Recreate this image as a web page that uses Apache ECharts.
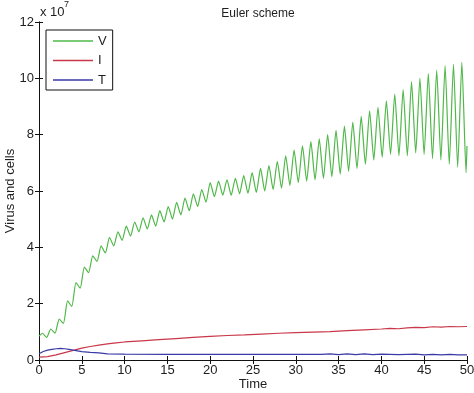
<!DOCTYPE html>
<html>
<head>
<meta charset="utf-8">
<script src="https://cdn.jsdelivr.net/npm/echarts@6/dist/echarts.min.js"></script>
<style>html,body{margin:0;padding:0;background:#fff}#c{width:474px;height:393px}</style>
</head>
<body>
<div id="c"></div>
<script>
// Values in units of 10^7
const xTicks = [0, 5, 10, 15, 20, 25, 30, 35, 40, 45, 50];
const yTicks = [0, 2, 4, 6, 8, 10, 12];

const vTime = [0, 0.4, 0.89, 1.38, 1.87, 2.36, 2.85, 3.34, 3.83, 4.32, 4.81, 5.3, 5.79, 6.28, 6.77, 7.26, 7.75, 8.24, 8.73, 9.22, 9.71,
  10.2, 10.69, 11.18, 11.67, 12.16, 12.65, 13.14, 13.63, 14.12, 14.61, 15.1, 15.59, 16.08, 16.57, 17.06, 17.55, 18.04, 18.53, 19.02, 19.51,
  20.0, 20.49, 20.98, 21.47, 21.96, 22.45, 22.94, 23.43, 23.92, 24.41, 24.9, 25.39, 25.88, 26.37, 26.86, 27.35, 27.84, 28.33, 28.82, 29.31,
  29.8, 30.29, 30.78, 31.27, 31.76, 32.25, 32.74, 33.23, 33.72, 34.21, 34.7, 35.19, 35.68, 36.17, 36.66, 37.15, 37.64, 38.13, 38.62, 39.11,
  39.6, 40.09, 40.58, 41.07, 41.56, 42.05, 42.54, 43.03, 43.52, 44.01, 44.5, 44.99, 45.48, 45.97, 46.46, 46.95, 47.44, 47.93, 48.42, 48.91,
  49.4, 49.89, 50];
const vValue = [0.85, 0.95, 0.8, 1.1, 0.95, 1.45, 1.3, 2.1, 1.9, 2.75, 2.55, 3.3, 3.1, 3.7, 3.5, 4.05, 3.8, 4.35, 4.05, 4.55, 4.25,
  4.75, 4.4, 4.9, 4.55, 5.05, 4.65, 5.15, 4.75, 5.3, 4.9, 5.45, 5.0, 5.6, 5.15, 5.75, 5.3, 5.9, 5.45, 6.05, 5.6,
  6.3, 5.8, 6.35, 5.85, 6.4, 5.85, 6.45, 5.9, 6.55, 5.92, 6.65, 5.95, 6.8, 6.0, 6.9, 6.05, 7.05, 6.1, 7.25, 6.2,
  7.45, 6.3, 7.6, 6.35, 7.75, 6.4, 7.85, 6.45, 8.0, 6.5, 8.15, 6.6, 8.3, 6.7, 8.45, 6.8, 8.65, 6.95, 8.85, 7.1,
  8.97, 7.2, 9.2, 7.3, 9.44, 7.25, 9.6, 7.25, 9.88, 7.35, 10.0, 7.3, 10.17, 7.15, 10.29, 7.1, 10.45, 6.95, 10.5, 6.85,
  10.57, 6.65, 7.6];

const iTime = [0, 1, 2, 3, 4, 5, 6, 7, 8, 9, 10, 12, 14, 16, 18, 20, 22, 24, 26, 28, 30, 32, 34, 36, 38, 40, 41, 42, 43, 44, 45, 46, 47, 48, 49, 50];
const iValue = [0.1, 0.12, 0.18, 0.26, 0.34, 0.42, 0.48, 0.53, 0.57, 0.61, 0.64, 0.68, 0.72, 0.76, 0.8, 0.84, 0.87, 0.89, 0.92, 0.95, 0.97, 0.99, 1.01, 1.04, 1.07, 1.1, 1.12, 1.11, 1.14, 1.16, 1.15, 1.18, 1.17, 1.19, 1.18, 1.19];

const tTime = [0, 0.5, 1, 1.5, 2, 2.5, 3, 3.5, 4, 5, 6, 7, 8, 10, 15, 20, 25, 30, 33, 34, 35, 36, 37, 38, 39, 40, 42, 44, 45, 46, 47, 48, 49, 50];
const tValue = [0.22, 0.3, 0.35, 0.38, 0.4, 0.41, 0.4, 0.38, 0.35, 0.3, 0.27, 0.25, 0.22, 0.21, 0.2, 0.2, 0.2, 0.2, 0.2, 0.22, 0.19, 0.22, 0.19, 0.22, 0.19, 0.21, 0.19, 0.21, 0.18, 0.2, 0.18, 0.2, 0.18, 0.18];

const zip = (a, b) => a.map((x, i) => [x, b[i]]);
const FONT = 'Liberation Sans, Arial, sans-serif';
const TXT = '#1e1e1e';
const COLORS = { V: '#4fb848', I: '#c9384a', T: '#3a3aa8' };

const chart = echarts.init(document.getElementById('c'));
const axisCommon = {
  axisLine: { show: true, lineStyle: { color: '#111', width: 1 } },
  axisTick: { show: true, inside: true, length: 4, lineStyle: { color: '#111' } },
  splitLine: { show: false }
};
chart.setOption({
  animation: false,
  backgroundColor: '#fff',
  title: {
    text: 'Euler scheme', left: 253, top: 3, textAlign: 'center',
    textStyle: { fontFamily: FONT, fontSize: 12, fontWeight: 'normal', color: TXT }
  },
  grid: { left: 39, right: 7, top: 22, bottom: 33, containLabel: false, outerBoundsMode: 'none' },
  legend: {
    left: 46, top: 30, orient: 'vertical',
    data: ['V', 'I', 'T'].map(n => ({ name: n, icon: 'rect', itemStyle: { color: COLORS[n] } })),
    itemWidth: 40, itemHeight: 1.5, itemGap: 5.5, itemTextGap: 5,
    padding: [4, 6, 3, 7],
    borderColor: '#111', borderWidth: 1, backgroundColor: '#fff',
    textStyle: { fontFamily: FONT, fontSize: 13, color: TXT, lineHeight: 14 }
  },
  graphic: [
    { type: 'text', left: 40, top: 6, style: { text: 'x 10', font: '13px ' + FONT, fill: TXT } },
    { type: 'text', left: 64, top: 0, style: { text: '7', font: '9px ' + FONT, fill: TXT } }
  ],
  xAxis: [
    Object.assign({}, axisCommon, {
      type: 'value', min: 0, max: 50, interval: 5, position: 'bottom',
      name: 'Time', nameLocation: 'middle', nameGap: 18, nameMoveOverlap: false,
      nameTextStyle: { fontFamily: FONT, fontSize: 13, color: TXT },
      axisLabel: { margin: 4, fontFamily: FONT, fontSize: 13, color: TXT,
        formatter: v => xTicks.includes(v) ? String(v) : '' }
    }),
    Object.assign({}, axisCommon, {
      type: 'value', min: 0, max: 50, interval: 5, position: 'top',
      axisLabel: { show: false }
    })
  ],
  yAxis: [
    Object.assign({}, axisCommon, {
      type: 'value', min: 0, max: 12, interval: 2, position: 'left',
      name: 'Virus and cells', nameLocation: 'middle', nameGap: 22, nameMoveOverlap: false,
      nameTextStyle: { fontFamily: FONT, fontSize: 13, color: TXT },
      axisLabel: { margin: 5, fontFamily: FONT, fontSize: 13, color: TXT,
        formatter: v => yTicks.includes(v) ? String(v) : '' }
    }),
    Object.assign({}, axisCommon, {
      type: 'value', min: 0, max: 12, interval: 2, position: 'right',
      axisLabel: { show: false }
    })
  ],
  series: [
    { name: 'V', type: 'line', data: zip(vTime, vValue), symbol: 'none', smooth: 0.2,
      lineStyle: { color: COLORS.V, width: 1.2 }, itemStyle: { color: COLORS.V } },
    { name: 'I', type: 'line', data: zip(iTime, iValue), symbol: 'none',
      lineStyle: { color: COLORS.I, width: 1.2 }, itemStyle: { color: COLORS.I } },
    { name: 'T', type: 'line', data: zip(tTime, tValue), symbol: 'none',
      lineStyle: { color: COLORS.T, width: 1.2 }, itemStyle: { color: COLORS.T } }
  ]
});
</script>
</body>
</html>
